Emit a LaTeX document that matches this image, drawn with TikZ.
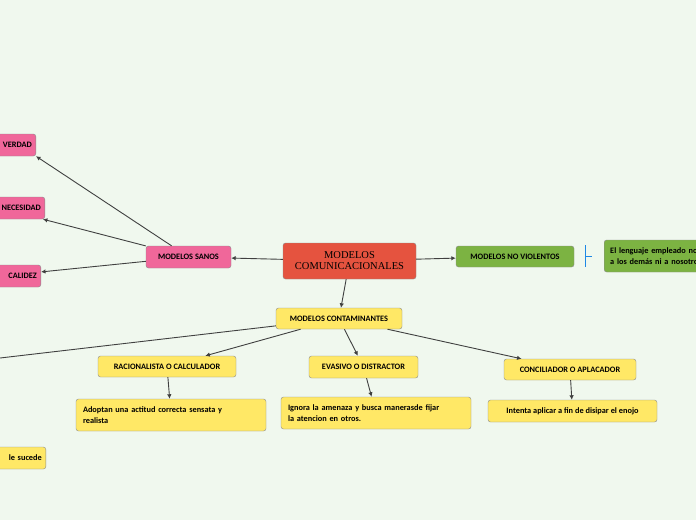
\documentclass[tikz,border=0pt]{standalone}
\usepackage{fontspec}
\setmainfont{Carlito}
\newfontfamily\serifx{Liberation Serif}
\usetikzlibrary{arrows.meta}
\definecolor{bg}{RGB}{240,248,238}
\definecolor{pk}{RGB}{240,103,154}
\definecolor{yl}{RGB}{255,232,102}
\definecolor{gr}{RGB}{124,179,66}
\definecolor{rd}{RGB}{229,83,63}
\definecolor{bl}{RGB}{30,136,229}
\begin{document}
\begin{tikzpicture}[x=1pt,y=-1pt,
 box/.style={draw=black!45,rounded corners=2.5pt,font=\bfseries\fontsize{8.3}{10.5}\selectfont,inner sep=0pt,align=left},
 pink/.style={box,fill=pk},
 yel/.style={box,fill=yl},
 grn/.style={box,fill=gr},
 arr/.style={draw=black!75,line width=0.9pt,-{Latex[length=4.5pt,width=4.5pt]}}]
\fill[bg] (0,0) rectangle (696,520);
\useasboundingbox (0,0) rectangle (696,520);
\clip (0,0) rectangle (696,520);
\node[box,fill=rd,minimum width=133,minimum height=36,align=center,font=\serifx\fontsize{10.5}{11}\selectfont] (main) at (349.5,261) {MODELOS\\COMUNICACIONALES};
\node[pink,minimum width=85,minimum height=22] (sanos) at (188.5,257) {MODELOS SANOS};
\node[pink,minimum width=76,minimum height=22,anchor=east,text width=68,align=right] (verdad) at (36,145) {VERDAD};
\node[pink,minimum width=90,minimum height=22,anchor=east,text width=82,align=right] (nec) at (45,208) {NECESIDAD};
\node[pink,minimum width=80,minimum height=22,anchor=east,text width=72,align=right] (cal) at (41,276) {CALIDEZ};
\node[grn,minimum width=118,minimum height=21,align=center] (nov) at (515,256.5) {MODELOS NO VIOLENTOS};
\node[grn,minimum width=160,minimum height=32,anchor=west,text width=148] (len) at (604,256) {El lenguaje empleado no daña\\a los demás ni a nosotros};
\draw[bl,line width=0.8pt] (585,245) -- (585,267) (585,256) -- (592,256);
\node[yel,minimum width=126,minimum height=21,align=center] (cont) at (339,318.5) {MODELOS CONTAMINANTES};
\node[yel,minimum width=138,minimum height=21,align=center] (rac) at (167,366.5) {RACIONALISTA O CALCULADOR};
\node[yel,minimum width=109,minimum height=22,align=center] (eva) at (363.5,367) {EVASIVO O DISTRACTOR};
\node[yel,minimum width=132,minimum height=21,align=center] (con) at (570,369.5) {CONCILIADOR O APLACADOR};
\node[yel,minimum width=190,minimum height=32,text width=176] (ado) at (171,415) {Adoptan una actitud correcta sensata y\\realista};
\node[yel,minimum width=190,minimum height=32,text width=176] (ign) at (376,413) {Ignora la amenaza y busca manerasde fijar\\la atencion en otros.};
\node[yel,minimum width=169,minimum height=22,align=center] (int) at (572.5,411) {Intenta aplicar a fin de disipar el enojo};
\node[yel,minimum width=100,minimum height=22,anchor=east,text width=92,align=right] (suc) at (46,458) {le sucede};
\coordinate (off) at (-60,365);
\draw[arr] (main) -- (sanos);
\draw[arr] (main) -- (nov);
\draw[arr] (main) -- (cont);
\draw[arr] (sanos) -- (verdad.south east);
\draw[arr] (sanos) -- (nec);
\draw[arr] (sanos) -- (cal);
\draw[arr] (cont) -- (rac);
\draw[arr] (cont) -- (eva);
\draw[arr] (cont) -- (con);
\draw[draw=black!75,line width=0.9pt] (cont) -- (off);
\draw[arr] (rac) -- (ado);
\draw[arr] (eva) -- (ign);
\draw[arr] (con) -- (int);
\end{tikzpicture}
\end{document}
